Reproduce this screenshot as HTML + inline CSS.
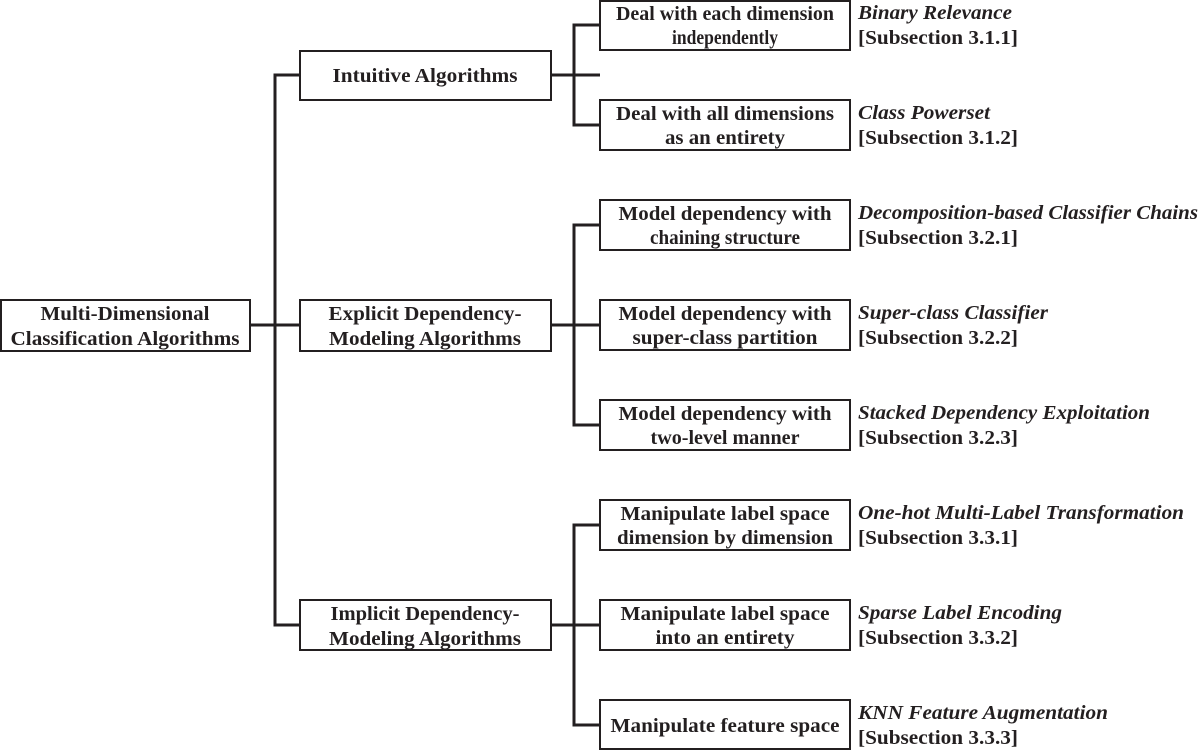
<!DOCTYPE html>
<html><head><meta charset="utf-8"><style>html,body{margin:0;padding:0;background:#fff;}svg{display:block}</style></head>
<body>
<svg width="1200" height="751" viewBox="0 0 1200 751" xmlns="http://www.w3.org/2000/svg" font-family="Liberation Serif, serif" font-weight="bold" font-size="20" fill="#231f20">
<g stroke="#231f20" stroke-width="3" fill="none">
<line x1="250" y1="325" x2="300" y2="325"/>
<polyline points="300,75 275,75 275,625 300,625"/>
<line x1="551" y1="75" x2="600" y2="75"/>
<polyline points="600,25 574,25 574,125 600,125"/>
<line x1="551" y1="325" x2="600" y2="325"/>
<polyline points="600,225 574,225 574,425 600,425"/>
<line x1="551" y1="625" x2="600" y2="625"/>
<polyline points="600,525 574,525 574,725 600,725"/>
</g>
<g stroke="#231f20" stroke-width="2" fill="#fff">
<rect x="1" y="300" width="249" height="51"/>
<rect x="300" y="51" width="251" height="49"/>
<rect x="300" y="300" width="251" height="51"/>
<rect x="300" y="600" width="251" height="50"/>
<rect x="600" y="1" width="250" height="49"/>
<rect x="600" y="100" width="250" height="50"/>
<rect x="600" y="200" width="250" height="50"/>
<rect x="600" y="300" width="250" height="50"/>
<rect x="600" y="400" width="250" height="50"/>
<rect x="600" y="500" width="250" height="50"/>
<rect x="600" y="600" width="250" height="50"/>
<rect x="600" y="700" width="250" height="49"/>
</g>
<g text-anchor="middle">
<text x="125" y="320" textLength="169" lengthAdjust="spacingAndGlyphs">Multi-Dimensional</text>
<text x="125" y="345" textLength="229" lengthAdjust="spacingAndGlyphs">Classification Algorithms</text>
<text x="425" y="82" textLength="185" lengthAdjust="spacingAndGlyphs">Intuitive Algorithms</text>
<text x="425" y="320" textLength="193" lengthAdjust="spacingAndGlyphs">Explicit Dependency-</text>
<text x="425" y="345" textLength="192" lengthAdjust="spacingAndGlyphs">Modeling Algorithms</text>
<text x="425" y="620" textLength="189" lengthAdjust="spacingAndGlyphs">Implicit Dependency-</text>
<text x="425" y="645" textLength="192" lengthAdjust="spacingAndGlyphs">Modeling Algorithms</text>
<text x="725" y="20" textLength="218" lengthAdjust="spacingAndGlyphs">Deal with each dimension</text>
<text x="725" y="44" textLength="106" lengthAdjust="spacingAndGlyphs">independently</text>
<text x="725" y="120" textLength="218" lengthAdjust="spacingAndGlyphs">Deal with all dimensions</text>
<text x="725" y="144" textLength="120" lengthAdjust="spacingAndGlyphs">as an entirety</text>
<text x="725" y="220" textLength="213" lengthAdjust="spacingAndGlyphs">Model dependency with</text>
<text x="725" y="244" textLength="150" lengthAdjust="spacingAndGlyphs">chaining structure</text>
<text x="725" y="320" textLength="213" lengthAdjust="spacingAndGlyphs">Model dependency with</text>
<text x="725" y="344" textLength="185" lengthAdjust="spacingAndGlyphs">super-class partition</text>
<text x="725" y="420" textLength="213" lengthAdjust="spacingAndGlyphs">Model dependency with</text>
<text x="725" y="444" textLength="149" lengthAdjust="spacingAndGlyphs">two-level manner</text>
<text x="725" y="520" textLength="209" lengthAdjust="spacingAndGlyphs">Manipulate label space</text>
<text x="725" y="544" textLength="216" lengthAdjust="spacingAndGlyphs">dimension by dimension</text>
<text x="725" y="620" textLength="209" lengthAdjust="spacingAndGlyphs">Manipulate label space</text>
<text x="725" y="644" textLength="139" lengthAdjust="spacingAndGlyphs">into an entirety</text>
<text x="725" y="732" textLength="229" lengthAdjust="spacingAndGlyphs">Manipulate feature space</text>
</g>
<g>
<text x="858" y="19" font-style="italic" textLength="154" lengthAdjust="spacingAndGlyphs">Binary Relevance</text>
<text x="858" y="44" textLength="160" lengthAdjust="spacingAndGlyphs">[Subsection 3.1.1]</text>
<text x="858" y="119" font-style="italic" textLength="132" lengthAdjust="spacingAndGlyphs">Class Powerset</text>
<text x="858" y="144" textLength="160" lengthAdjust="spacingAndGlyphs">[Subsection 3.1.2]</text>
<text x="858" y="219" font-style="italic" textLength="340" lengthAdjust="spacingAndGlyphs">Decomposition-based Classifier Chains</text>
<text x="858" y="244" textLength="160" lengthAdjust="spacingAndGlyphs">[Subsection 3.2.1]</text>
<text x="858" y="319" font-style="italic" textLength="190" lengthAdjust="spacingAndGlyphs">Super-class Classifier</text>
<text x="858" y="344" textLength="160" lengthAdjust="spacingAndGlyphs">[Subsection 3.2.2]</text>
<text x="858" y="419" font-style="italic" textLength="292" lengthAdjust="spacingAndGlyphs">Stacked Dependency Exploitation</text>
<text x="858" y="444" textLength="160" lengthAdjust="spacingAndGlyphs">[Subsection 3.2.3]</text>
<text x="858" y="519" font-style="italic" textLength="326" lengthAdjust="spacingAndGlyphs">One-hot Multi-Label Transformation</text>
<text x="858" y="544" textLength="160" lengthAdjust="spacingAndGlyphs">[Subsection 3.3.1]</text>
<text x="858" y="619" font-style="italic" textLength="204" lengthAdjust="spacingAndGlyphs">Sparse Label Encoding</text>
<text x="858" y="644" textLength="160" lengthAdjust="spacingAndGlyphs">[Subsection 3.3.2]</text>
<text x="858" y="719" font-style="italic" textLength="250" lengthAdjust="spacingAndGlyphs">KNN Feature Augmentation</text>
<text x="858" y="744" textLength="160" lengthAdjust="spacingAndGlyphs">[Subsection 3.3.3]</text>
</g>
</svg>
</body></html>
